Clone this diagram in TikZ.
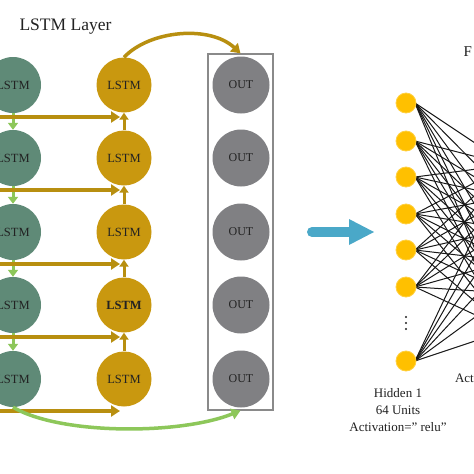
\documentclass[tikz,border=0pt]{standalone}
\usepackage{fontspec}
\setmainfont{Liberation Serif}
\usetikzlibrary{arrows.meta}
\definecolor{tealc}{HTML}{5F8A77}
\definecolor{goldc}{HTML}{C9980F}
\definecolor{goldarr}{HTML}{B88F10}
\definecolor{grayc}{HTML}{808083}
\definecolor{boxc}{HTML}{8A8A8A}
\definecolor{lgreen}{HTML}{8DC75A}
\definecolor{bluec}{HTML}{4AA8C8}
\definecolor{yellowc}{HTML}{FFC000}
\definecolor{txt}{HTML}{222222}
\begin{document}
\begin{tikzpicture}[x=1pt,y=-1pt,
  lstmL/.style={circle, fill=tealc, minimum size=56pt, inner sep=0pt, text=txt, font=\fontsize{12.5}{14}\selectfont},
  lstmM/.style={circle, fill=goldc, minimum size=55pt, inner sep=0pt, text=txt, font=\fontsize{12.5}{14}\selectfont},
  outc/.style={circle, fill=grayc, minimum size=57pt, inner sep=0pt, text=txt, font=\fontsize{12}{14}\selectfont},
  hid/.style={circle, fill=yellowc, draw=yellowc!75, line width=0.8pt, minimum size=20pt, inner sep=0pt},
  garrow/.style={draw=goldarr, line width=4pt, -{Triangle[length=9pt,width=11pt]}},
  gvert/.style={draw=goldarr, line width=3pt, -{Triangle[length=7pt,width=9pt]}},
  greenarrow/.style={draw=lgreen, line width=3pt, -{Triangle[length=7pt,width=10pt]}},
  curvegold/.style={draw=goldarr, line width=3.5pt, -{Triangle[length=9pt,width=11pt]}},
  curvegreen/.style={draw=lgreen, line width=3.5pt, -{Triangle[length=9pt,width=11pt]}},
  edge/.style={draw=black!90, line width=1pt},
  lab/.style={text=txt, font=\fontsize{13}{17}\selectfont, align=center}
]
\useasboundingbox (0,0) rectangle (474,474);
\clip (0,0) rectangle (474,474);
\fill[white] (0,0) rectangle (474,474);

% title
\node[text=txt, font=\fontsize{17.5}{20}\selectfont, anchor=west] (title) at (16,27) {LSTM Layer};

% columns
\foreach \i/\y in {1/85,2/158,3/232,4/305,5/379}{
  \node[lstmL] (l\i) at (13,\y) {LSTM};
  \coordinate (s\i) at (-5,\y+32);
}
\node[lstmM] (m1) at (124,85) {LSTM};
\node[lstmM] (m2) at (124,158) {LSTM};
\node[lstmM] (m3) at (124,232) {LSTM};
\node[lstmM, font=\fontsize{12.5}{14}\selectfont\bfseries] (m4) at (124,305) {LSTM};
\node[lstmM] (m5) at (124,379) {LSTM};
\foreach \i/\y in {1/85,2/158,3/232,4/305,5/379}{
  \node[outc] (o\i) at (241,\y) {OUT};
}
\node[draw=boxc, line width=1.2pt, minimum width=65pt, minimum height=356pt, inner sep=0pt] (outbox) at (240.5,232) {};

% green arrows in left column
\foreach \a/\b in {1/2,2/3,3/4,4/5}{
  \draw[greenarrow] (l\a.south) -- (l\b.north);
}
% gold vertical arrows in middle column
\foreach \a/\b in {2/1,3/2,4/3,5/4}{
  \draw[gvert] (m\a.north) -- (m\b.south);
}
% gold horizontal arrows
\foreach \i in {1,...,5}{
  \draw[garrow, shorten >=4pt] (s\i) -- (s\i -| m\i.south);
}
% curved arrows
\draw[curvegold] (m1.north) .. controls (150,30) and (210,25) .. (outbox.north);
\draw[curvegreen] (l5.south) .. controls (60,435) and (180,435) .. (outbox.south);

% blue arrow
\draw[bluec, line width=10pt, line cap=round] (312,232) -- (352,232);
\fill[bluec] (349,219) -- (374,232) -- (349,245) -- cycle;

% fully connected layer
\foreach \j/\y in {1/165,2/197,3/229,4/261,5/293,6/330}{
  \coordinate (t\j) at (508,\y);
}
\foreach \i/\y in {1/103,2/141,3/177,4/214,5/250,6/287,7/361}{
  \coordinate (hc\i) at (406,\y);
}
\foreach \i in {1,...,7}{
  \foreach \j in {1,...,6}{
    \draw[edge] ([xshift=9pt]hc\i) -- (t\j);
  }
}
\foreach \i in {1,...,7}{
  \node[hid] (h\i) at (hc\i) {};
}
\foreach \y in {317,323,329}{
  \fill[txt] (406,\y) circle (1.1pt);
}

\node[lab] (hlab) at (398,410) {Hidden 1\\64 Units\\Activation=” relu”};
\node[text=txt, font=\fontsize{13}{17}\selectfont, anchor=east, inner xsep=0pt] (act) at (474,378) {Act};
\node[text=txt, font=\fontsize{15}{18}\selectfont, anchor=west] (ftitle) at (460,52) {F};
\end{tikzpicture}
\end{document}
